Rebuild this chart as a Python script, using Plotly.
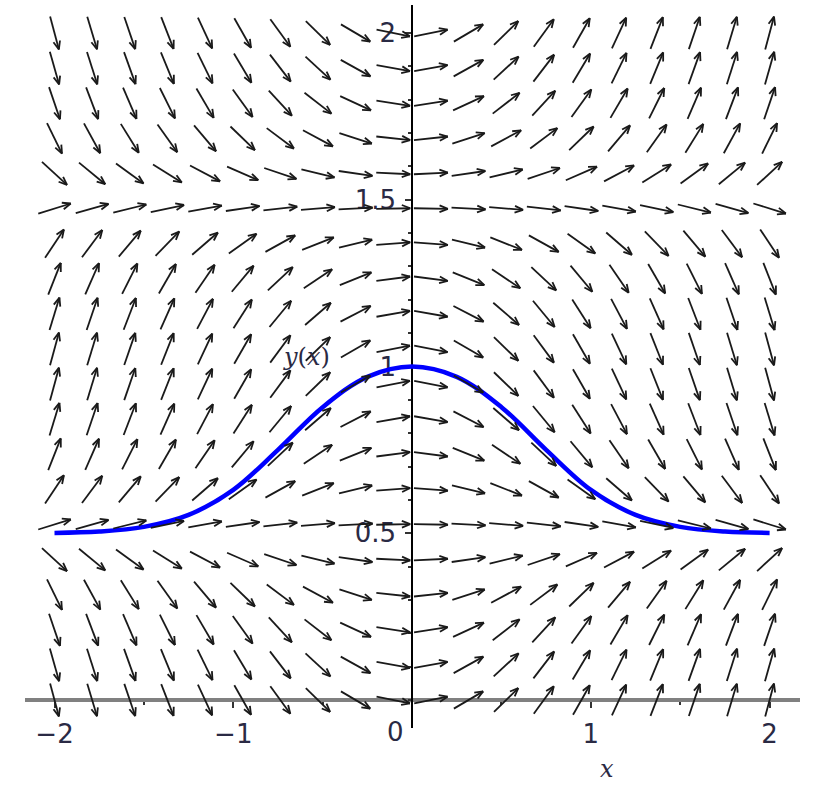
import numpy as np
import plotly.graph_objects as go

# ---- data -------------------------------------------------------------
# direction field grid (20 x 20 arrows, Maple DEplot style)
grid_x = np.linspace(-2, 2, 20)
grid_y = np.linspace(0, 2, 20)
# slope per unit x for each grid row (dy/dx = x * factor); factor read per row
row_slope_factor = [1.0, 0.946, 0.789, 0.547, 0.246, -0.083, -0.402, -0.677,
                    -0.880, -0.986, -0.986, -0.880, -0.677, -0.402, -0.083,
                    0.246, 0.547, 0.789, 0.946, 1.0]

# solution curve y(x)
curve_x = [-2.0, -1.75, -1.5, -1.25, -1.0, -0.75, -0.5, -0.25, 0.0,
           0.25, 0.5, 0.75, 1.0, 1.25, 1.5, 1.75, 2.0]
curve_y = [0.501, 0.505, 0.519, 0.555, 0.630, 0.750, 0.878, 0.969, 1.0,
           0.969, 0.878, 0.750, 0.630, 0.555, 0.519, 0.505, 0.501]

x_ticks = [-2, -1, 1, 2]
x_tick_text = ["\u22122", "\u22121", "1", "2"]
y_ticks = [0.5, 1, 1.5, 2]
y_tick_text = ["0.5", "1", "1.5", "2"]

# ---- layout geometry ----------------------------------------------------
W, H = 830, 802
ML, MR, MT, MB = 25, 30, 5, 74
XR = [-2.165, 2.17]
YR = [-0.084, 2.084]
sx = (W - ML - MR) / (XR[1] - XR[0])   # px per x unit
sy = (H - MT - MB) / (YR[1] - YR[0])   # px per y unit

L = 34.0      # arrow length in px
HL = 9.0      # head length px
HA = np.radians(22)

ax, ay = [], []
for j, yv in enumerate(grid_y):
    for xv in grid_x:
        f = xv * row_slope_factor[j]
        th = np.arctan2(f * sy, sx)
        ux, uy = np.cos(th), np.sin(th)
        x0 = xv - 0.5 * L * ux / sx
        y0 = yv - 0.5 * L * uy / sy
        x1 = xv + 0.5 * L * ux / sx
        y1 = yv + 0.5 * L * uy / sy
        ax += [x0, x1, None]
        ay += [y0, y1, None]
        for s in (1, -1):
            a = th + np.pi + s * HA
            ax += [x1, x1 + HL * np.cos(a) / sx, None]
            ay += [y1, y1 + HL * np.sin(a) / sy, None]

fig = go.Figure()
fig.add_trace(go.Scatter(x=curve_x, y=curve_y, mode="lines",
                         line=dict(color="#0000ff", width=4.5, shape="spline"),
                         hoverinfo="skip", showlegend=False))
fig.add_trace(go.Scatter(x=ax, y=ay, mode="lines",
                         line=dict(color="#1a1a1a", width=1.8),
                         hoverinfo="skip", showlegend=False))

tfont = dict(family="DejaVu Sans", size=26, color="#2a2a44")

xpos = (0 - YR[0]) / (YR[1] - YR[0])
ypos = (0 - XR[0]) / (XR[1] - XR[0])


def ypaper(v):
    return (v - YR[0]) / (YR[1] - YR[0])


fig.update_layout(
    width=W, height=H,
    margin=dict(l=ML, r=MR, t=MT, b=MB),
    paper_bgcolor="white", plot_bgcolor="white",
    showlegend=False,
    xaxis=dict(range=XR, showgrid=False, zeroline=False,
               showline=True, linecolor="#808080", linewidth=3.5,
               anchor="free", position=xpos, layer="below traces",
               tickmode="array", tickvals=x_ticks, ticktext=x_tick_text,
               ticks="outside", ticklen=6, tickwidth=1.5, tickcolor="#333",
               tickfont=tfont, ticklabelstandoff=4,
               minor=dict(tickvals=[-1.5, -0.5, 0.5, 1.5], ticks="outside",
                          ticklen=3, tickcolor="#333")),
    yaxis=dict(range=YR, showgrid=False, zeroline=False,
               showline=True, linecolor="#000000", linewidth=1.5,
               anchor="free", position=ypos, layer="below traces",
               tickmode="array", tickvals=y_ticks, ticktext=y_tick_text,
               ticks="outside", ticklen=6, tickwidth=1.5, tickcolor="#333",
               tickfont=tfont, ticklabelstandoff=4,
               minor=dict(dtick=0.1, ticks="outside", ticklen=3,
                          tickcolor="#333")),
)

fig.add_annotation(x=-0.095, y=ypaper(-0.096), xref="x", yref="paper", text="0",
                   showarrow=False, font=tfont, xanchor="center", yanchor="middle")
fig.add_annotation(x=1.09, y=ypaper(-0.207), xref="x", yref="paper", text="<i>x</i>",
                   showarrow=False, font=dict(family="DejaVu Serif", size=24, color="#2a2a44"),
                   xanchor="center", yanchor="middle")
fig.add_annotation(x=-0.59, y=1.03, xref="x", yref="y", text="<i>y</i>(<i>x</i>)",
                   showarrow=False, font=dict(family="DejaVu Serif", size=24, color="#2a2a44"),
                   xanchor="center", yanchor="middle")

fig.write_html("out.html", config={"displayModeBar": False},
               post_script="document.body.style.margin='0';")
